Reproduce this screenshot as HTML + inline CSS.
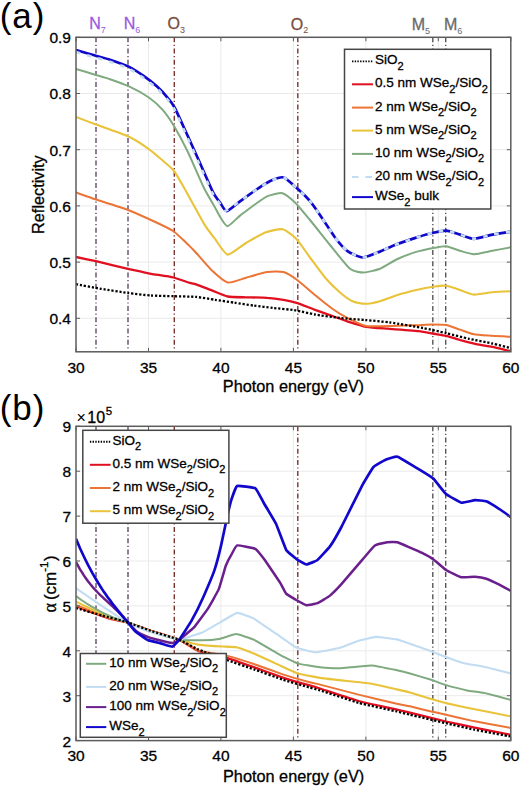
<!DOCTYPE html>
<html><head><meta charset="utf-8"><title>Figure</title>
<style>html,body{margin:0;padding:0;background:#fff;} body{width:520px;height:787px;overflow:hidden;font-family:"Liberation Sans", sans-serif;} svg{display:block;}</style>
</head><body>
<svg width="520" height="787" viewBox="0 0 520 787" font-family='"Liberation Sans", sans-serif'>
<rect width="520" height="787" fill="#fff"/>
<clipPath id="ct"><rect x="76.0" y="37.3" width="434.8" height="314.5"/></clipPath>
<line x1="148.5" y1="37.3" x2="148.5" y2="351.8" stroke="#eaeaea" stroke-width="1"/>
<line x1="220.9" y1="37.3" x2="220.9" y2="351.8" stroke="#eaeaea" stroke-width="1"/>
<line x1="293.4" y1="37.3" x2="293.4" y2="351.8" stroke="#eaeaea" stroke-width="1"/>
<line x1="365.9" y1="37.3" x2="365.9" y2="351.8" stroke="#eaeaea" stroke-width="1"/>
<line x1="438.3" y1="37.3" x2="438.3" y2="351.8" stroke="#eaeaea" stroke-width="1"/>
<line x1="76.0" y1="318.3" x2="510.8" y2="318.3" stroke="#eaeaea" stroke-width="1"/>
<line x1="76.0" y1="262.1" x2="510.8" y2="262.1" stroke="#eaeaea" stroke-width="1"/>
<line x1="76.0" y1="205.9" x2="510.8" y2="205.9" stroke="#eaeaea" stroke-width="1"/>
<line x1="76.0" y1="149.7" x2="510.8" y2="149.7" stroke="#eaeaea" stroke-width="1"/>
<line x1="76.0" y1="93.5" x2="510.8" y2="93.5" stroke="#eaeaea" stroke-width="1"/>
<line x1="76.0" y1="37.3" x2="510.8" y2="37.3" stroke="#eaeaea" stroke-width="1"/>
<line x1="96.0" y1="37.3" x2="96.0" y2="351.8" stroke="#62486a" stroke-width="1.4" stroke-dasharray="5 2.5 1.2 2.5"/>
<line x1="128.0" y1="37.3" x2="128.0" y2="351.8" stroke="#62486a" stroke-width="1.4" stroke-dasharray="5 2.5 1.2 2.5"/>
<line x1="174.3" y1="37.3" x2="174.3" y2="351.8" stroke="#7a3430" stroke-width="1.4" stroke-dasharray="5 2.5 1.2 2.5"/>
<line x1="297.8" y1="37.3" x2="297.8" y2="351.8" stroke="#7a3430" stroke-width="1.4" stroke-dasharray="5 2.5 1.2 2.5"/>
<line x1="432.8" y1="37.3" x2="432.8" y2="351.8" stroke="#555555" stroke-width="1.4" stroke-dasharray="5 2.5 1.2 2.5"/>
<line x1="445.7" y1="37.3" x2="445.7" y2="351.8" stroke="#555555" stroke-width="1.4" stroke-dasharray="5 2.5 1.2 2.5"/>
<g clip-path="url(#ct)" fill="none" stroke-linejoin="round">
<path d="M76.0,257.0C78.0,257.4 90.8,260.1 96.0,261.2C101.2,262.4 122.5,267.5 128.0,268.8C133.5,270.0 146.4,272.9 151.0,273.8C155.6,274.6 169.8,276.6 173.5,277.5C177.2,278.4 186.2,281.8 188.5,282.5C190.8,283.2 193.7,283.6 196.0,284.4C198.3,285.2 208.2,289.0 211.4,290.2C214.6,291.4 224.2,295.8 227.7,296.5C231.2,297.2 242.1,297.2 246.0,297.3C249.9,297.4 263.4,297.6 267.2,297.9C270.9,298.1 280.5,299.3 283.5,299.8C286.5,300.3 294.4,302.1 297.5,303.1C300.6,304.1 311.4,308.5 315.0,309.8C318.6,311.1 330.6,315.3 333.8,316.5C337.0,317.7 344.1,320.4 347.3,321.4C350.5,322.4 362.2,326.1 366.2,326.8C370.2,327.5 382.5,328.3 387.7,328.7C392.9,329.1 414.0,330.7 418.5,331.2C423.0,331.7 429.5,333.0 432.3,333.5C435.1,334.0 443.4,335.2 446.2,335.8C449.0,336.4 457.0,339.2 460.0,340.0C463.0,340.8 473.0,343.5 476.2,344.2C479.4,344.9 488.8,346.2 492.3,346.9C495.8,347.6 508.9,350.7 510.8,351.1" stroke="#e01020" stroke-width="2.3"/>
<path d="M76.0,192.5C78.0,193.2 90.8,197.8 96.0,199.5C101.2,201.2 122.5,207.9 128.0,210.0C133.5,212.1 146.4,217.9 151.0,220.0C155.6,222.1 169.8,228.8 173.5,231.2C177.2,233.8 186.2,242.9 188.5,245.0C190.8,247.1 193.7,250.2 196.0,252.7C198.3,255.2 208.2,267.0 211.4,270.0C214.6,273.0 224.2,281.7 227.7,282.5C231.2,283.3 242.1,278.8 246.0,277.7C249.9,276.6 263.4,272.6 267.2,272.0C270.9,271.4 280.5,271.2 283.5,272.0C286.5,272.8 294.4,277.9 297.5,280.2C300.6,282.5 311.4,292.0 315.0,295.0C318.6,298.0 330.6,307.5 333.8,309.8C337.0,312.1 344.1,316.3 347.3,317.9C350.5,319.5 361.6,325.1 366.2,325.9C370.8,326.7 388.3,326.0 393.1,325.9C397.9,325.8 409.9,325.4 413.8,325.3C417.7,325.2 429.1,324.5 432.3,324.5C435.5,324.5 443.4,324.5 446.2,325.0C449.0,325.5 457.2,328.7 460.0,329.6C462.8,330.5 470.6,333.6 473.8,334.2C477.0,334.8 488.6,335.5 492.3,335.8C496.0,336.1 508.9,336.7 510.8,336.8" stroke="#ec7434" stroke-width="2.0"/>
<path d="M76.0,117.0C78.0,117.8 90.8,122.6 96.0,124.5C101.2,126.4 122.8,133.8 128.0,136.2C133.2,138.7 144.9,146.2 148.5,148.8C152.1,151.2 160.9,159.0 163.5,161.2C166.1,163.5 171.9,168.0 174.2,171.1C176.5,174.2 183.7,187.1 186.7,192.4C189.7,197.7 201.6,219.7 204.4,224.4C207.2,229.1 212.9,236.2 215.2,239.2C217.5,242.2 224.6,254.2 227.7,254.6C230.8,255.0 242.2,245.2 246.0,243.0C249.8,240.8 261.6,233.9 265.2,232.5C268.8,231.1 279.4,228.6 282.5,229.2C285.6,229.8 293.5,235.9 296.2,238.8C299.0,241.6 307.1,253.6 310.0,257.5C312.9,261.4 322.0,274.0 325.0,277.5C328.0,281.0 337.2,290.1 340.0,292.5C342.8,294.9 350.0,300.1 352.5,301.2C355.0,302.4 362.2,303.8 365.0,303.8C367.8,303.8 376.8,302.1 380.0,301.2C383.2,300.4 393.9,296.1 397.5,295.0C401.1,293.9 412.5,290.9 416.2,290.0C419.9,289.1 431.6,286.9 434.6,286.5C437.6,286.1 443.7,285.4 446.2,285.8C448.7,286.2 457.2,289.1 460.0,290.0C462.8,290.9 470.6,294.4 473.8,294.6C477.0,294.8 488.6,292.6 492.3,292.3C496.0,292.0 508.9,291.3 510.8,291.2" stroke="#e9c33a" stroke-width="2.1"/>
<path d="M76.0,69.0C78.0,69.6 92.6,74.0 96.0,75.0C99.4,76.0 106.8,78.1 110.0,79.2C113.2,80.3 124.6,84.4 128.5,86.2C132.4,88.0 145.7,95.3 149.2,97.7C152.7,100.1 160.6,107.5 163.1,110.4C165.6,113.3 171.9,122.5 174.3,126.6C176.7,130.7 184.4,144.9 187.4,151.0C190.4,157.1 201.3,182.6 204.0,188.0C206.7,193.4 212.2,202.6 213.9,205.5C215.6,208.4 219.1,215.4 220.5,217.5C221.9,219.6 225.7,226.4 227.6,226.2C229.5,226.0 237.5,217.6 240.0,215.6C242.5,213.6 249.8,208.2 252.5,206.2C255.2,204.3 264.5,197.6 267.5,196.2C270.5,194.9 279.8,192.6 282.5,193.2C285.2,193.9 292.2,199.8 295.0,202.5C297.8,205.2 306.5,215.8 310.0,220.0C313.5,224.2 326.0,240.1 330.0,245.0C334.0,249.9 346.6,266.0 350.0,268.8C353.4,271.5 360.8,272.5 363.8,272.5C366.8,272.5 376.6,270.1 380.0,268.8C383.4,267.4 393.9,260.7 397.5,259.0C401.1,257.3 412.5,253.0 416.2,251.9C419.9,250.8 431.6,248.4 434.6,247.8C437.6,247.2 443.7,245.9 446.2,246.2C448.7,246.5 457.2,250.0 460.0,250.8C462.8,251.6 470.6,254.2 473.8,254.2C477.0,254.2 488.6,251.5 492.3,250.8C496.0,250.1 508.9,247.7 510.8,247.3" stroke="#7faa80" stroke-width="2.0"/>
<path d="M76.0,50.0C78.0,50.6 92.6,54.8 96.0,55.8C99.4,56.7 106.8,58.6 110.0,59.7C113.2,60.8 124.8,64.8 128.2,66.4C131.6,68.0 140.7,73.9 143.6,75.9C146.5,77.9 154.7,84.4 157.1,86.6C159.5,88.8 166.2,96.0 167.9,98.1C169.7,100.2 172.6,103.7 174.6,107.5C176.6,111.3 185.4,130.9 187.9,136.3C190.4,141.7 196.8,155.9 199.3,161.5C201.8,167.1 211.0,188.2 213.1,192.4C215.2,196.6 219.0,201.2 220.4,203.1C221.8,205.0 224.7,211.3 226.7,211.1C228.7,210.9 236.9,203.5 240.0,201.3C243.1,199.1 254.2,190.9 257.5,188.8C260.8,186.6 269.9,181.1 272.5,180.0C275.1,178.9 281.2,176.6 283.8,177.5C286.2,178.4 294.9,186.4 297.5,188.8C300.1,191.1 307.5,198.2 310.0,201.2C312.5,204.2 320.0,215.1 322.5,218.8C325.0,222.4 332.5,234.2 335.0,237.5C337.5,240.8 344.8,249.2 347.5,251.2C350.2,253.2 359.5,257.4 362.5,257.5C365.5,257.6 374.2,253.8 377.5,252.5C380.8,251.2 390.9,246.6 395.0,245.0C399.1,243.4 414.8,238.1 418.5,236.9C422.2,235.7 429.5,233.6 432.3,233.0C435.1,232.4 443.4,230.5 446.2,230.7C449.0,230.9 457.2,233.8 460.0,234.6C462.8,235.4 470.6,238.8 473.8,238.8C477.0,238.8 488.6,235.3 492.3,234.6C496.0,233.9 508.9,231.9 510.8,231.6" stroke="#1208cc" stroke-width="2.7"/>
<path d="M76.0,52.0C78.0,52.6 92.6,56.8 96.0,57.8C99.4,58.7 106.8,60.6 110.0,61.7C113.2,62.8 124.8,66.8 128.2,68.4C131.6,70.0 140.7,75.9 143.6,77.9C146.5,79.9 154.7,86.4 157.1,88.6C159.5,90.8 166.3,98.2 167.9,100.1C169.5,102.0 171.5,103.6 173.4,107.2C175.3,110.8 184.2,130.6 186.7,136.0C189.2,141.4 195.6,155.6 198.1,161.2C200.6,166.8 209.8,187.9 211.9,192.1C214.0,196.3 217.8,200.9 219.2,202.8C220.6,204.7 223.4,210.9 225.5,210.8C227.6,210.6 236.8,203.5 240.0,201.3C243.2,199.1 254.2,190.9 257.5,188.8C260.8,186.6 269.9,181.1 272.5,180.0C275.1,178.9 281.2,176.6 283.8,177.5C286.2,178.4 294.9,186.4 297.5,188.8C300.1,191.1 307.5,198.2 310.0,201.2C312.5,204.2 320.0,215.1 322.5,218.8C325.0,222.4 332.5,234.2 335.0,237.5C337.5,240.8 344.8,249.2 347.5,251.2C350.2,253.2 359.5,257.4 362.5,257.5C365.5,257.6 374.2,253.8 377.5,252.5C380.8,251.2 390.9,246.6 395.0,245.0C399.1,243.4 414.8,238.1 418.5,236.9C422.2,235.7 429.5,233.6 432.3,233.0C435.1,232.4 443.4,230.5 446.2,230.7C449.0,230.9 457.2,233.8 460.0,234.6C462.8,235.4 470.6,238.8 473.8,238.8C477.0,238.8 488.6,235.3 492.3,234.6C496.0,233.9 508.9,231.9 510.8,231.6" stroke="#c2dcf2" stroke-width="2.6" stroke-dasharray="4.5 7"/>
<path d="M76.0,284.2C78.5,284.7 95.8,287.9 101.0,288.8C106.2,289.6 123.0,292.3 128.0,293.0C133.0,293.7 146.4,295.2 151.0,295.5C155.6,295.8 169.0,296.1 173.5,296.2C178.0,296.4 191.8,296.5 196.0,296.9C200.2,297.3 211.3,299.2 215.2,299.8C219.0,300.4 230.7,302.1 234.5,302.7C238.3,303.3 249.9,305.1 253.7,305.6C257.5,306.1 268.7,307.4 272.9,307.9C277.1,308.4 291.8,309.7 296.0,310.4C300.2,311.1 310.6,313.7 315.0,314.5C319.4,315.3 335.0,317.4 340.0,318.0C345.0,318.6 360.0,319.6 365.0,320.0C370.0,320.4 384.2,321.7 390.0,322.5C395.8,323.3 417.4,326.9 423.0,328.0C428.6,329.1 441.6,332.0 446.2,333.1C450.8,334.2 464.6,337.8 469.2,338.8C473.8,339.8 488.1,342.6 492.3,343.5C496.5,344.4 508.9,347.6 510.8,348.0" stroke="#000000" stroke-width="2.3" stroke-dasharray="2.2 1.8"/>
</g>
<line x1="76.0" y1="351.8" x2="76.0" y2="347.8" stroke="#5c5c5c" stroke-width="1"/>
<line x1="76.0" y1="37.3" x2="76.0" y2="41.3" stroke="#5c5c5c" stroke-width="1"/>
<line x1="148.5" y1="351.8" x2="148.5" y2="347.8" stroke="#5c5c5c" stroke-width="1"/>
<line x1="148.5" y1="37.3" x2="148.5" y2="41.3" stroke="#5c5c5c" stroke-width="1"/>
<line x1="220.9" y1="351.8" x2="220.9" y2="347.8" stroke="#5c5c5c" stroke-width="1"/>
<line x1="220.9" y1="37.3" x2="220.9" y2="41.3" stroke="#5c5c5c" stroke-width="1"/>
<line x1="293.4" y1="351.8" x2="293.4" y2="347.8" stroke="#5c5c5c" stroke-width="1"/>
<line x1="293.4" y1="37.3" x2="293.4" y2="41.3" stroke="#5c5c5c" stroke-width="1"/>
<line x1="365.9" y1="351.8" x2="365.9" y2="347.8" stroke="#5c5c5c" stroke-width="1"/>
<line x1="365.9" y1="37.3" x2="365.9" y2="41.3" stroke="#5c5c5c" stroke-width="1"/>
<line x1="438.3" y1="351.8" x2="438.3" y2="347.8" stroke="#5c5c5c" stroke-width="1"/>
<line x1="438.3" y1="37.3" x2="438.3" y2="41.3" stroke="#5c5c5c" stroke-width="1"/>
<line x1="510.8" y1="351.8" x2="510.8" y2="347.8" stroke="#5c5c5c" stroke-width="1"/>
<line x1="510.8" y1="37.3" x2="510.8" y2="41.3" stroke="#5c5c5c" stroke-width="1"/>
<line x1="76.0" y1="318.3" x2="80.0" y2="318.3" stroke="#5c5c5c" stroke-width="1"/>
<line x1="510.8" y1="318.3" x2="506.8" y2="318.3" stroke="#5c5c5c" stroke-width="1"/>
<line x1="76.0" y1="262.1" x2="80.0" y2="262.1" stroke="#5c5c5c" stroke-width="1"/>
<line x1="510.8" y1="262.1" x2="506.8" y2="262.1" stroke="#5c5c5c" stroke-width="1"/>
<line x1="76.0" y1="205.9" x2="80.0" y2="205.9" stroke="#5c5c5c" stroke-width="1"/>
<line x1="510.8" y1="205.9" x2="506.8" y2="205.9" stroke="#5c5c5c" stroke-width="1"/>
<line x1="76.0" y1="149.7" x2="80.0" y2="149.7" stroke="#5c5c5c" stroke-width="1"/>
<line x1="510.8" y1="149.7" x2="506.8" y2="149.7" stroke="#5c5c5c" stroke-width="1"/>
<line x1="76.0" y1="93.5" x2="80.0" y2="93.5" stroke="#5c5c5c" stroke-width="1"/>
<line x1="510.8" y1="93.5" x2="506.8" y2="93.5" stroke="#5c5c5c" stroke-width="1"/>
<line x1="76.0" y1="37.3" x2="80.0" y2="37.3" stroke="#5c5c5c" stroke-width="1"/>
<line x1="510.8" y1="37.3" x2="506.8" y2="37.3" stroke="#5c5c5c" stroke-width="1"/>
<rect x="76.0" y="37.3" width="434.8" height="314.5" fill="none" stroke="#5c5c5c" stroke-width="1.5"/>
<clipPath id="cb"><rect x="76.0" y="426.3" width="434.8" height="314.3"/></clipPath>
<line x1="148.5" y1="426.3" x2="148.5" y2="740.6" stroke="#eaeaea" stroke-width="1"/>
<line x1="220.9" y1="426.3" x2="220.9" y2="740.6" stroke="#eaeaea" stroke-width="1"/>
<line x1="293.4" y1="426.3" x2="293.4" y2="740.6" stroke="#eaeaea" stroke-width="1"/>
<line x1="365.9" y1="426.3" x2="365.9" y2="740.6" stroke="#eaeaea" stroke-width="1"/>
<line x1="438.3" y1="426.3" x2="438.3" y2="740.6" stroke="#eaeaea" stroke-width="1"/>
<line x1="76.0" y1="740.6" x2="510.8" y2="740.6" stroke="#eaeaea" stroke-width="1"/>
<line x1="76.0" y1="695.7" x2="510.8" y2="695.7" stroke="#eaeaea" stroke-width="1"/>
<line x1="76.0" y1="650.8" x2="510.8" y2="650.8" stroke="#eaeaea" stroke-width="1"/>
<line x1="76.0" y1="605.9" x2="510.8" y2="605.9" stroke="#eaeaea" stroke-width="1"/>
<line x1="76.0" y1="561.0" x2="510.8" y2="561.0" stroke="#eaeaea" stroke-width="1"/>
<line x1="76.0" y1="516.1" x2="510.8" y2="516.1" stroke="#eaeaea" stroke-width="1"/>
<line x1="76.0" y1="471.2" x2="510.8" y2="471.2" stroke="#eaeaea" stroke-width="1"/>
<line x1="76.0" y1="426.3" x2="510.8" y2="426.3" stroke="#eaeaea" stroke-width="1"/>
<line x1="96.0" y1="426.3" x2="96.0" y2="740.6" stroke="#62486a" stroke-width="1.4" stroke-dasharray="5 2.5 1.2 2.5"/>
<line x1="128.0" y1="426.3" x2="128.0" y2="740.6" stroke="#62486a" stroke-width="1.4" stroke-dasharray="5 2.5 1.2 2.5"/>
<line x1="174.3" y1="426.3" x2="174.3" y2="740.6" stroke="#7a3430" stroke-width="1.4" stroke-dasharray="5 2.5 1.2 2.5"/>
<line x1="297.8" y1="426.3" x2="297.8" y2="740.6" stroke="#7a3430" stroke-width="1.4" stroke-dasharray="5 2.5 1.2 2.5"/>
<line x1="432.8" y1="426.3" x2="432.8" y2="740.6" stroke="#555555" stroke-width="1.4" stroke-dasharray="5 2.5 1.2 2.5"/>
<line x1="445.7" y1="426.3" x2="445.7" y2="740.6" stroke="#555555" stroke-width="1.4" stroke-dasharray="5 2.5 1.2 2.5"/>
<g clip-path="url(#cb)" fill="none" stroke-linejoin="round">
<path d="M76.0,606.0C76.9,606.4 91.6,612.4 93.3,613.0C95.0,613.6 108.9,618.5 110.6,619.0C112.3,619.5 126.0,621.9 128.0,622.5C130.0,623.1 147.4,629.7 150.0,630.6C152.6,631.5 176.8,638.8 179.2,639.8C181.6,640.8 195.7,649.9 198.1,650.8C200.5,651.7 223.5,656.9 226.3,657.7C229.1,658.5 250.9,666.2 253.8,667.2C256.7,668.2 280.8,676.9 283.5,677.8C286.2,678.7 307.0,684.7 308.8,685.2C310.6,685.7 317.5,687.7 320.0,688.5C322.5,689.3 354.7,699.9 358.5,701.0C362.3,702.1 394.3,709.0 396.9,709.6C399.5,710.2 407.5,712.0 410.0,712.6C412.5,713.2 442.8,720.8 446.0,721.5C449.2,722.2 470.3,726.7 473.5,727.4C476.7,728.1 508.9,734.4 510.8,734.8" stroke="#e01020" stroke-width="2.3"/>
<path d="M76.0,605.1C76.9,605.4 91.6,611.3 93.3,612.0C95.0,612.7 108.9,618.0 110.6,618.5C112.3,619.0 126.0,621.9 128.0,622.5C130.0,623.1 147.4,629.9 150.0,630.8C152.6,631.7 176.8,638.8 179.2,639.8C181.6,640.8 195.7,649.6 198.1,650.4C200.5,651.2 223.5,654.9 226.3,655.6C229.1,656.3 250.9,663.0 253.8,664.0C256.7,665.0 280.8,673.7 283.5,674.6C286.2,675.5 307.0,681.5 308.8,682.0C310.6,682.5 317.5,684.0 320.0,684.6C322.5,685.2 354.7,693.6 358.5,694.6C362.3,695.6 394.3,703.2 396.9,703.8C399.5,704.4 408.3,705.9 410.0,706.3C411.7,706.7 429.4,711.1 431.2,711.5C433.0,711.9 443.9,714.2 446.0,714.7C448.1,715.2 470.3,720.4 473.5,721.1C476.7,721.8 508.9,727.7 510.8,728.0" stroke="#ec7434" stroke-width="2.0"/>
<path d="M76.0,601.6C76.9,602.0 91.6,609.2 93.3,610.0C95.0,610.8 108.9,616.9 110.6,617.5C112.3,618.1 126.0,621.8 128.0,622.5C130.0,623.2 147.4,630.1 150.0,631.0C152.6,631.9 176.8,639.1 179.2,639.8C181.6,640.5 195.9,644.3 198.1,644.6C200.3,644.9 221.2,646.4 223.1,646.5C225.0,646.6 235.0,646.9 236.5,647.2C238.0,647.6 251.7,652.6 253.8,653.5C255.9,654.4 277.0,664.1 279.2,665.1C281.4,666.1 296.3,673.0 298.3,673.6C300.3,674.2 317.7,677.5 320.0,677.9C322.3,678.3 342.4,680.5 345.0,680.8C347.6,681.1 369.3,683.3 371.9,683.7C374.5,684.1 395.0,689.0 396.9,689.4C398.8,689.8 408.3,692.0 410.0,692.5C411.7,693.0 429.4,698.4 431.2,698.9C433.0,699.4 444.2,702.7 446.0,703.1C447.8,703.5 463.9,707.0 467.1,707.7C470.3,708.4 508.6,716.0 510.8,716.4" stroke="#e9c33a" stroke-width="2.1"/>
<path d="M76.0,596.1C76.2,596.2 79.6,598.7 80.0,599.0C80.4,599.3 83.6,601.5 84.0,601.7C84.4,602.0 87.6,604.1 88.0,604.3C88.4,604.6 91.6,606.6 92.0,606.8C92.4,607.0 95.6,608.9 96.0,609.1C96.4,609.3 99.6,611.1 100.0,611.3C100.4,611.5 103.6,613.1 104.0,613.3C104.4,613.5 107.6,615.0 108.0,615.2C108.4,615.4 111.6,616.8 112.0,616.9C112.4,617.1 115.6,618.4 116.0,618.5C116.4,618.7 119.6,619.9 120.0,620.0C120.4,620.1 123.6,621.2 124.0,621.3C124.4,621.5 126.7,622.0 128.0,622.5C129.3,623.0 147.4,630.6 150.0,631.5C152.6,632.4 176.6,639.4 179.2,639.8C181.8,640.2 200.9,640.3 202.9,640.3C204.9,640.3 217.2,639.4 218.9,639.1C220.6,638.8 234.3,634.1 236.0,634.1C237.7,634.1 251.5,638.6 253.8,639.7C256.1,640.8 279.1,654.4 281.3,655.6C283.5,656.8 296.4,663.0 298.3,663.6C300.2,664.2 318.0,667.1 320.0,667.3C322.0,667.5 336.6,668.4 339.2,668.3C341.8,668.2 369.0,665.3 371.9,665.4C374.8,665.5 395.0,669.8 396.9,670.2C398.8,670.6 408.3,673.0 410.0,673.5C411.7,674.0 429.4,679.2 431.2,679.8C433.0,680.4 444.2,684.6 446.0,685.1C447.8,685.6 465.2,690.0 467.1,690.4C469.0,690.8 481.8,692.4 484.0,692.9C486.2,693.4 509.5,699.5 510.8,699.9" stroke="#7faa80" stroke-width="2.0"/>
<path d="M76.0,588.2C76.2,588.3 79.6,590.7 80.0,591.0C80.4,591.2 83.6,593.5 84.0,593.8C84.4,594.0 87.6,596.3 88.0,596.5C88.4,596.8 91.6,599.0 92.0,599.3C92.4,599.5 95.6,601.7 96.0,602.0C96.4,602.2 99.6,604.4 100.0,604.7C100.4,604.9 103.6,607.1 104.0,607.3C104.4,607.6 107.6,609.7 108.0,610.0C108.4,610.2 111.6,612.3 112.0,612.6C112.4,612.8 115.6,614.9 116.0,615.1C116.4,615.4 119.6,617.5 120.0,617.7C120.4,618.0 123.6,620.0 124.0,620.2C124.4,620.5 126.9,622.0 128.0,622.5C129.1,623.0 143.3,629.5 145.2,630.2C147.1,630.9 164.3,635.7 166.0,636.2C167.7,636.7 177.4,640.0 179.2,639.8C181.0,639.6 200.9,633.1 202.9,632.3C204.9,631.5 217.2,624.1 218.9,623.1C220.6,622.1 235.4,613.1 237.1,612.9C238.8,612.7 251.8,617.5 253.8,618.6C255.8,619.7 275.0,633.0 277.1,634.4C279.2,635.8 294.3,646.6 296.2,647.5C298.1,648.4 313.1,652.4 315.2,652.4C317.3,652.4 337.0,648.7 339.2,648.1C341.4,647.5 356.7,641.4 358.5,640.8C360.3,640.2 373.9,637.0 375.8,636.9C377.7,636.8 395.2,639.1 396.9,639.4C398.6,639.7 408.3,643.2 410.0,643.8C411.7,644.4 429.4,650.6 431.2,651.3C433.0,652.0 444.4,656.4 446.0,657.0C447.6,657.6 461.0,662.4 462.9,662.9C464.8,663.4 481.6,666.2 484.0,666.7C486.4,667.2 509.5,673.2 510.8,673.5" stroke="#c2dcf2" stroke-width="2.1"/>
<path d="M76.0,562.0C76.2,562.4 79.6,568.6 80.0,569.3C80.4,569.9 83.6,575.0 84.0,575.6C84.4,576.2 87.6,580.7 88.0,581.3C88.4,581.8 91.6,585.8 92.0,586.2C92.4,586.7 95.6,590.3 96.0,590.7C96.4,591.1 99.6,594.4 100.0,594.8C100.4,595.2 103.6,598.2 104.0,598.6C104.4,599.0 107.6,601.9 108.0,602.3C108.4,602.6 111.6,605.5 112.0,605.9C112.4,606.3 115.6,609.2 116.0,609.6C116.4,610.0 119.6,613.1 120.0,613.5C120.4,613.9 123.6,617.3 124.0,617.8C124.4,618.2 127.4,621.8 128.0,622.5C128.6,623.2 135.9,630.8 136.9,631.5C137.9,632.2 146.5,636.4 147.7,636.9C148.9,637.4 160.3,640.5 161.5,640.8C162.7,641.1 171.4,643.1 172.3,643.1C173.2,643.1 178.1,640.6 179.2,639.8C180.3,639.0 192.3,629.2 193.7,627.7C195.1,626.2 206.1,611.3 207.4,609.4C208.7,607.5 218.0,591.1 218.9,588.9C219.8,586.7 225.1,567.7 225.7,566.0C226.3,564.3 230.8,555.6 231.4,554.6C232.0,553.6 235.9,545.7 237.1,545.4C238.3,545.1 254.0,548.2 255.4,548.9C256.8,549.6 263.5,558.3 264.8,560.0C266.0,561.7 278.9,580.8 280.0,582.5C281.1,584.2 285.4,592.9 286.2,593.8C287.1,594.6 295.2,599.4 296.2,600.0C297.3,600.6 305.4,605.0 306.5,605.2C307.6,605.4 316.2,603.7 317.4,603.2C318.6,602.7 328.8,596.6 330.0,595.6C331.2,594.6 339.8,586.0 341.4,584.2C343.0,582.4 360.3,562.0 362.0,560.1C363.7,558.2 373.3,546.6 374.6,545.7C375.9,544.8 386.1,542.5 387.2,542.3C388.3,542.1 395.8,541.8 397.5,542.3C399.2,542.8 419.7,551.7 421.5,552.6C423.3,553.5 432.3,558.5 433.5,559.4C434.7,560.3 444.6,569.1 446.0,570.0C447.4,570.9 459.9,577.0 461.3,577.3C462.7,577.6 473.6,576.6 474.8,576.7C476.1,576.8 485.1,578.3 486.3,578.7C487.5,579.1 497.6,583.8 498.8,584.4C500.0,585.0 510.2,590.5 510.8,590.8" stroke="#6a1f8c" stroke-width="2.5"/>
<path d="M76.0,538.9C76.2,539.4 79.6,547.3 80.0,548.2C80.4,549.1 83.6,556.0 84.0,556.8C84.4,557.7 87.6,564.1 88.0,564.9C88.4,565.6 91.6,571.6 92.0,572.4C92.4,573.1 95.6,578.6 96.0,579.3C96.4,580.0 99.6,585.2 100.0,585.8C100.4,586.5 103.6,591.3 104.0,591.9C104.4,592.5 107.6,597.1 108.0,597.7C108.4,598.2 111.6,602.5 112.0,603.1C112.4,603.6 115.6,607.7 116.0,608.2C116.4,608.7 119.6,612.6 120.0,613.1C120.4,613.6 123.6,617.4 124.0,617.9C124.4,618.3 127.4,621.8 128.0,622.5C128.6,623.2 134.4,630.6 135.4,631.5C136.4,632.4 146.5,639.4 147.7,640.0C148.9,640.6 158.8,642.8 160.0,643.1C161.2,643.4 171.3,646.8 172.3,646.6C173.3,646.4 178.2,641.1 179.2,639.8C180.2,638.5 190.2,623.0 191.4,620.9C192.6,618.8 201.8,600.5 202.9,598.0C204.0,595.5 213.4,573.2 214.3,570.6C215.2,568.0 220.5,548.0 221.1,545.4C221.7,542.8 226.4,520.3 226.9,518.0C227.4,515.7 230.9,501.3 231.4,499.7C231.9,498.1 235.9,486.6 237.1,486.0C238.3,485.4 254.1,487.5 255.4,488.3C256.7,489.1 262.5,500.7 263.5,502.5C264.5,504.3 274.9,521.4 276.0,523.8C277.1,526.1 285.2,548.2 286.2,550.0C287.3,551.8 295.2,558.0 296.2,558.8C297.2,559.5 305.2,564.4 306.2,564.5C307.3,564.6 316.3,560.9 317.5,560.0C318.7,559.1 328.8,548.0 330.0,546.4C331.2,544.8 339.8,530.0 341.4,527.0C343.0,524.0 360.4,488.8 362.0,485.8C363.6,482.8 372.3,468.3 373.5,467.0C374.7,465.7 384.9,460.0 386.1,459.5C387.3,459.0 395.7,456.1 397.5,456.7C399.3,457.3 419.7,469.8 421.5,470.9C423.3,472.0 432.3,477.5 433.5,478.7C434.7,479.9 444.6,492.8 446.0,494.0C447.4,495.2 459.9,502.4 461.3,502.7C462.7,503.0 473.6,500.3 474.8,500.2C476.1,500.1 485.0,500.8 486.3,501.3C487.6,501.8 499.6,509.2 500.8,510.0C502.0,510.8 510.3,516.9 510.8,517.3" stroke="#1208cc" stroke-width="2.7"/>
<path d="M76.0,608.0C77.3,608.4 99.4,614.8 102.0,615.5C104.6,616.2 125.6,621.7 128.0,622.5C130.4,623.3 148.2,629.9 150.8,630.8C153.4,631.7 176.8,638.9 179.2,639.8C181.6,640.7 195.7,648.4 198.1,649.4C200.5,650.4 223.5,658.8 226.3,659.8C229.1,660.8 250.9,668.3 253.8,669.3C256.7,670.3 280.8,679.0 283.5,679.9C286.2,680.8 307.0,686.8 308.8,687.3C310.6,687.8 317.5,689.6 320.0,690.4C322.5,691.2 354.7,701.8 358.5,702.9C362.3,704.0 394.3,710.9 396.9,711.5C399.5,712.1 407.5,714.1 410.0,714.7C412.5,715.3 442.8,722.5 446.0,723.2C449.2,723.9 470.3,728.8 473.5,729.5C476.7,730.2 508.9,736.1 510.8,736.5" stroke="#000000" stroke-width="2.3" stroke-dasharray="2.2 1.8"/>
</g>
<line x1="76.0" y1="740.6" x2="76.0" y2="736.6" stroke="#5c5c5c" stroke-width="1"/>
<line x1="76.0" y1="426.3" x2="76.0" y2="430.3" stroke="#5c5c5c" stroke-width="1"/>
<line x1="148.5" y1="740.6" x2="148.5" y2="736.6" stroke="#5c5c5c" stroke-width="1"/>
<line x1="148.5" y1="426.3" x2="148.5" y2="430.3" stroke="#5c5c5c" stroke-width="1"/>
<line x1="220.9" y1="740.6" x2="220.9" y2="736.6" stroke="#5c5c5c" stroke-width="1"/>
<line x1="220.9" y1="426.3" x2="220.9" y2="430.3" stroke="#5c5c5c" stroke-width="1"/>
<line x1="293.4" y1="740.6" x2="293.4" y2="736.6" stroke="#5c5c5c" stroke-width="1"/>
<line x1="293.4" y1="426.3" x2="293.4" y2="430.3" stroke="#5c5c5c" stroke-width="1"/>
<line x1="365.9" y1="740.6" x2="365.9" y2="736.6" stroke="#5c5c5c" stroke-width="1"/>
<line x1="365.9" y1="426.3" x2="365.9" y2="430.3" stroke="#5c5c5c" stroke-width="1"/>
<line x1="438.3" y1="740.6" x2="438.3" y2="736.6" stroke="#5c5c5c" stroke-width="1"/>
<line x1="438.3" y1="426.3" x2="438.3" y2="430.3" stroke="#5c5c5c" stroke-width="1"/>
<line x1="510.8" y1="740.6" x2="510.8" y2="736.6" stroke="#5c5c5c" stroke-width="1"/>
<line x1="510.8" y1="426.3" x2="510.8" y2="430.3" stroke="#5c5c5c" stroke-width="1"/>
<line x1="76.0" y1="740.6" x2="80.0" y2="740.6" stroke="#5c5c5c" stroke-width="1"/>
<line x1="510.8" y1="740.6" x2="506.8" y2="740.6" stroke="#5c5c5c" stroke-width="1"/>
<line x1="76.0" y1="695.7" x2="80.0" y2="695.7" stroke="#5c5c5c" stroke-width="1"/>
<line x1="510.8" y1="695.7" x2="506.8" y2="695.7" stroke="#5c5c5c" stroke-width="1"/>
<line x1="76.0" y1="650.8" x2="80.0" y2="650.8" stroke="#5c5c5c" stroke-width="1"/>
<line x1="510.8" y1="650.8" x2="506.8" y2="650.8" stroke="#5c5c5c" stroke-width="1"/>
<line x1="76.0" y1="605.9" x2="80.0" y2="605.9" stroke="#5c5c5c" stroke-width="1"/>
<line x1="510.8" y1="605.9" x2="506.8" y2="605.9" stroke="#5c5c5c" stroke-width="1"/>
<line x1="76.0" y1="561.0" x2="80.0" y2="561.0" stroke="#5c5c5c" stroke-width="1"/>
<line x1="510.8" y1="561.0" x2="506.8" y2="561.0" stroke="#5c5c5c" stroke-width="1"/>
<line x1="76.0" y1="516.1" x2="80.0" y2="516.1" stroke="#5c5c5c" stroke-width="1"/>
<line x1="510.8" y1="516.1" x2="506.8" y2="516.1" stroke="#5c5c5c" stroke-width="1"/>
<line x1="76.0" y1="471.2" x2="80.0" y2="471.2" stroke="#5c5c5c" stroke-width="1"/>
<line x1="510.8" y1="471.2" x2="506.8" y2="471.2" stroke="#5c5c5c" stroke-width="1"/>
<line x1="76.0" y1="426.3" x2="80.0" y2="426.3" stroke="#5c5c5c" stroke-width="1"/>
<line x1="510.8" y1="426.3" x2="506.8" y2="426.3" stroke="#5c5c5c" stroke-width="1"/>
<rect x="76.0" y="426.3" width="434.8" height="314.3" fill="none" stroke="#5c5c5c" stroke-width="1.5"/>
<rect x="344.5" y="49.3" width="146.3" height="159.7" fill="#fff" stroke="#454545" stroke-width="1.5"/>
<line x1="352" y1="61.4" x2="373" y2="61.4" stroke="#000" stroke-width="1.9" stroke-dasharray="1.4 1.3"/>
<text x="375" y="64.4" font-size="13.5" stroke="#000" stroke-width="0.3">SiO<tspan dy="5.5" font-size="11">2</tspan></text>
<line x1="352" y1="84.3" x2="373" y2="84.3" stroke="#e01020" stroke-width="2.0"/>
<text x="375" y="87.3" font-size="13.5" stroke="#000" stroke-width="0.3">0.5 nm WSe<tspan dy="5.5" font-size="11">2</tspan><tspan dy="-5.5">/SiO</tspan><tspan dy="5.5" font-size="11">2</tspan></text>
<line x1="352" y1="107.6" x2="373" y2="107.6" stroke="#ec7434" stroke-width="2.0"/>
<text x="375" y="110.6" font-size="13.5" stroke="#000" stroke-width="0.3">2 nm WSe<tspan dy="5.5" font-size="11">2</tspan><tspan dy="-5.5">/SiO</tspan><tspan dy="5.5" font-size="11">2</tspan></text>
<line x1="352" y1="130.6" x2="373" y2="130.6" stroke="#e9c33a" stroke-width="2.0"/>
<text x="375" y="133.6" font-size="13.5" stroke="#000" stroke-width="0.3">5 nm WSe<tspan dy="5.5" font-size="11">2</tspan><tspan dy="-5.5">/SiO</tspan><tspan dy="5.5" font-size="11">2</tspan></text>
<line x1="352" y1="153.9" x2="373" y2="153.9" stroke="#7faa80" stroke-width="2.0"/>
<text x="375" y="156.9" font-size="13.5" stroke="#000" stroke-width="0.3">10 nm WSe<tspan dy="5.5" font-size="11">2</tspan><tspan dy="-5.5">/SiO</tspan><tspan dy="5.5" font-size="11">2</tspan></text>
<line x1="352" y1="177.0" x2="373" y2="177.0" stroke="#c2dcf2" stroke-width="2.0" stroke-dasharray="6.5 7"/>
<text x="375" y="180.0" font-size="13.5" stroke="#000" stroke-width="0.3">20 nm WSe<tspan dy="5.5" font-size="11">2</tspan><tspan dy="-5.5">/SiO</tspan><tspan dy="5.5" font-size="11">2</tspan></text>
<line x1="352" y1="197.1" x2="373" y2="197.1" stroke="#1208cc" stroke-width="2.0"/>
<text x="375" y="200.1" font-size="13.5" stroke="#000" stroke-width="0.3">WSe<tspan dy="5.5" font-size="11">2</tspan><tspan dy="-5.5"> bulk</tspan></text><rect x="82.8" y="430.3" width="146.1" height="92.9" fill="#fff" stroke="#454545" stroke-width="1.5"/>
<line x1="89.9" y1="441.7" x2="110.6" y2="441.7" stroke="#000" stroke-width="1.9" stroke-dasharray="1.4 1.3"/>
<text x="112.5" y="444.7" font-size="13.5" stroke="#000" stroke-width="0.3">SiO<tspan dy="5.5" font-size="11">2</tspan></text>
<line x1="89.9" y1="464.8" x2="110.6" y2="464.8" stroke="#e01020" stroke-width="2.0"/>
<text x="112.5" y="467.8" font-size="13.5" stroke="#000" stroke-width="0.3">0.5 nm WSe<tspan dy="5.5" font-size="11">2</tspan><tspan dy="-5.5">/SiO</tspan><tspan dy="5.5" font-size="11">2</tspan></text>
<line x1="89.9" y1="488.0" x2="110.6" y2="488.0" stroke="#ec7434" stroke-width="2.0"/>
<text x="112.5" y="491.0" font-size="13.5" stroke="#000" stroke-width="0.3">2 nm WSe<tspan dy="5.5" font-size="11">2</tspan><tspan dy="-5.5">/SiO</tspan><tspan dy="5.5" font-size="11">2</tspan></text>
<line x1="89.9" y1="511.2" x2="110.6" y2="511.2" stroke="#e9c33a" stroke-width="2.0"/>
<text x="112.5" y="514.2" font-size="13.5" stroke="#000" stroke-width="0.3">5 nm WSe<tspan dy="5.5" font-size="11">2</tspan><tspan dy="-5.5">/SiO</tspan><tspan dy="5.5" font-size="11">2</tspan></text><rect x="80.3" y="653.5" width="146.0" height="83.8" fill="#fff" stroke="#454545" stroke-width="1.5"/>
<line x1="86" y1="663.8" x2="106.3" y2="663.8" stroke="#7faa80" stroke-width="2.0"/>
<text x="109.2" y="666.8" font-size="13.5" stroke="#000" stroke-width="0.3">10 nm WSe<tspan dy="5.5" font-size="11">2</tspan><tspan dy="-5.5">/SiO</tspan><tspan dy="5.5" font-size="11">2</tspan></text>
<line x1="86" y1="686.9" x2="106.3" y2="686.9" stroke="#c2dcf2" stroke-width="2.0"/>
<text x="109.2" y="689.9" font-size="13.5" stroke="#000" stroke-width="0.3">20 nm WSe<tspan dy="5.5" font-size="11">2</tspan><tspan dy="-5.5">/SiO</tspan><tspan dy="5.5" font-size="11">2</tspan></text>
<line x1="86" y1="707.1" x2="106.3" y2="707.1" stroke="#6a1f8c" stroke-width="2.0"/>
<text x="109.2" y="710.1" font-size="13.5" stroke="#000" stroke-width="0.3">100 nm WSe<tspan dy="5.5" font-size="11">2</tspan><tspan dy="-5.5">/SiO</tspan><tspan dy="5.5" font-size="11">2</tspan></text>
<line x1="86" y1="727.1" x2="106.3" y2="727.1" stroke="#1208cc" stroke-width="2.0"/>
<text x="109.2" y="730.1" font-size="13.5" stroke="#000" stroke-width="0.3">WSe<tspan dy="5.5" font-size="11">2</tspan></text>
<text x="76.0" y="373" font-size="15.5" text-anchor="middle" fill="#000" stroke="#000" stroke-width="0.3" >30</text><text x="76.0" y="760.8" font-size="15.5" text-anchor="middle" fill="#000" stroke="#000" stroke-width="0.3" >30</text><text x="148.5" y="373" font-size="15.5" text-anchor="middle" fill="#000" stroke="#000" stroke-width="0.3" >35</text><text x="148.5" y="760.8" font-size="15.5" text-anchor="middle" fill="#000" stroke="#000" stroke-width="0.3" >35</text><text x="220.9" y="373" font-size="15.5" text-anchor="middle" fill="#000" stroke="#000" stroke-width="0.3" >40</text><text x="220.9" y="760.8" font-size="15.5" text-anchor="middle" fill="#000" stroke="#000" stroke-width="0.3" >40</text><text x="293.4" y="373" font-size="15.5" text-anchor="middle" fill="#000" stroke="#000" stroke-width="0.3" >45</text><text x="293.4" y="760.8" font-size="15.5" text-anchor="middle" fill="#000" stroke="#000" stroke-width="0.3" >45</text><text x="365.9" y="373" font-size="15.5" text-anchor="middle" fill="#000" stroke="#000" stroke-width="0.3" >50</text><text x="365.9" y="760.8" font-size="15.5" text-anchor="middle" fill="#000" stroke="#000" stroke-width="0.3" >50</text><text x="438.3" y="373" font-size="15.5" text-anchor="middle" fill="#000" stroke="#000" stroke-width="0.3" >55</text><text x="438.3" y="760.8" font-size="15.5" text-anchor="middle" fill="#000" stroke="#000" stroke-width="0.3" >55</text><text x="510.8" y="373" font-size="15.5" text-anchor="middle" fill="#000" stroke="#000" stroke-width="0.3" >60</text><text x="510.8" y="760.8" font-size="15.5" text-anchor="middle" fill="#000" stroke="#000" stroke-width="0.3" >60</text><text x="71.0" y="324.2" font-size="15.5" text-anchor="end" fill="#000" stroke="#000" stroke-width="0.3" >0.4</text><text x="71.0" y="268.0" font-size="15.5" text-anchor="end" fill="#000" stroke="#000" stroke-width="0.3" >0.5</text><text x="71.0" y="211.8" font-size="15.5" text-anchor="end" fill="#000" stroke="#000" stroke-width="0.3" >0.6</text><text x="71.0" y="155.6" font-size="15.5" text-anchor="end" fill="#000" stroke="#000" stroke-width="0.3" >0.7</text><text x="71.0" y="99.4" font-size="15.5" text-anchor="end" fill="#000" stroke="#000" stroke-width="0.3" >0.8</text><text x="71.0" y="43.2" font-size="15.5" text-anchor="end" fill="#000" stroke="#000" stroke-width="0.3" >0.9</text><text x="71.0" y="746.7" font-size="15.5" text-anchor="end" fill="#000" stroke="#000" stroke-width="0.3" >2</text><text x="71.0" y="701.8" font-size="15.5" text-anchor="end" fill="#000" stroke="#000" stroke-width="0.3" >3</text><text x="71.0" y="656.9" font-size="15.5" text-anchor="end" fill="#000" stroke="#000" stroke-width="0.3" >4</text><text x="71.0" y="612.0" font-size="15.5" text-anchor="end" fill="#000" stroke="#000" stroke-width="0.3" >5</text><text x="71.0" y="567.1" font-size="15.5" text-anchor="end" fill="#000" stroke="#000" stroke-width="0.3" >6</text><text x="71.0" y="522.2" font-size="15.5" text-anchor="end" fill="#000" stroke="#000" stroke-width="0.3" >7</text><text x="71.0" y="477.3" font-size="15.5" text-anchor="end" fill="#000" stroke="#000" stroke-width="0.3" >8</text><text x="71.0" y="432.4" font-size="15.5" text-anchor="end" fill="#000" stroke="#000" stroke-width="0.3" >9</text><text x="293.4" y="392.4" font-size="16.3" text-anchor="middle" fill="#000" stroke="#000" stroke-width="0.3" >Photon energy (eV)</text><text x="293.6" y="782.3" font-size="16.3" text-anchor="middle" fill="#000" stroke="#000" stroke-width="0.3" >Photon energy (eV)</text><text transform="translate(44.0,194.6) rotate(-90)" font-size="16.3" text-anchor="middle" stroke="#000" stroke-width="0.3">Reflectivity</text><text transform="translate(55.6,612.5) rotate(-90)" font-size="17" text-anchor="start" stroke="#000" stroke-width="0.3"><tspan font-family="Liberation Serif, serif" font-size="18">α</tspan><tspan dx="3">(cm</tspan><tspan dy="-7.5" font-size="11.5">-1</tspan><tspan dy="7.5" dx="0.5">)</tspan></text><text x="-0.2" y="28.3" font-size="35" text-anchor="start" fill="#000" stroke="#000" stroke-width="0.3" letter-spacing="0.9" stroke-opacity="0">(a)</text><text x="-0.2" y="420.3" font-size="35" text-anchor="start" fill="#000" stroke="#000" stroke-width="0.3" letter-spacing="0.9" stroke-opacity="0">(b)</text><text x="76.5" y="422.5" font-size="16" stroke="#000" stroke-width="0.3"><tspan stroke-width="0">×</tspan><tspan dx="1.5">10</tspan><tspan dy="-8" font-size="11.5" dx="0.5">5</tspan></text><text x="97.5" y="29.3" font-size="16" text-anchor="middle" fill="#9a5ae2" stroke="#9a5ae2" stroke-width="0.3">N<tspan dy="3.6" font-size="9" stroke-width="0">7</tspan></text><text x="132.1" y="29.3" font-size="16" text-anchor="middle" fill="#9a5ae2" stroke="#9a5ae2" stroke-width="0.3">N<tspan dy="3.6" font-size="9" stroke-width="0">6</tspan></text><text x="176.3" y="29.0" font-size="16" text-anchor="middle" fill="#7a4c3e" stroke="#7a4c3e" stroke-width="0.3">O<tspan dy="3.6" font-size="9" stroke-width="0">3</tspan></text><text x="299.5" y="29.8" font-size="16" text-anchor="middle" fill="#7a4c3e" stroke="#7a4c3e" stroke-width="0.3">O<tspan dy="3.6" font-size="9" stroke-width="0">2</tspan></text><text x="420.9" y="29.9" font-size="16" text-anchor="middle" fill="#6a6a6a" stroke="#6a6a6a" stroke-width="0.3">M<tspan dy="3.6" font-size="9" stroke-width="0">5</tspan></text><text x="453.1" y="29.9" font-size="16" text-anchor="middle" fill="#6a6a6a" stroke="#6a6a6a" stroke-width="0.3">M<tspan dy="3.6" font-size="9" stroke-width="0">6</tspan></text>
</svg>
</body></html>
